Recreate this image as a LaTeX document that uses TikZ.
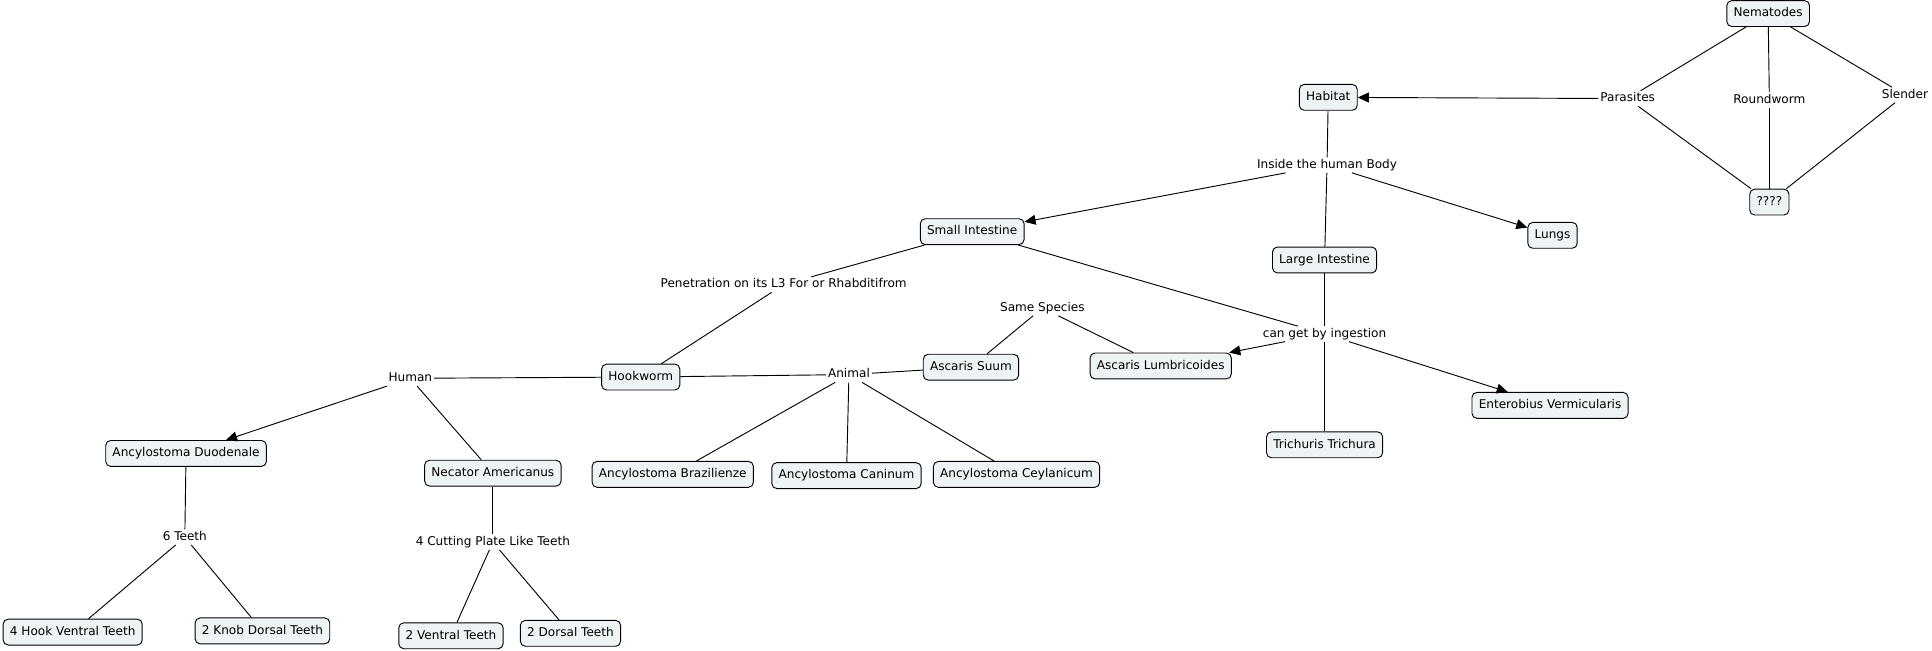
\documentclass[tikz,border=0pt]{standalone}
\usepackage{fontspec}
\setmainfont{DejaVu Sans}
\usetikzlibrary{arrows.meta}
\definecolor{boxfill}{RGB}{238,243,245}
\tikzstyle{concept} = [rectangle, rounded corners=4pt, draw=black, fill=boxfill, line width=0.75pt, minimum height=21pt, inner xsep=5.5pt, text height=7.2pt, text depth=2pt, font=\fontsize{9.8}{11}\selectfont]
\tikzstyle{link} = [inner sep=1.5pt, text height=7.2pt, text depth=2pt, font=\fontsize{9.8}{11}\selectfont]
\tikzstyle{line} = [line width=0.75pt]
\tikzstyle{arrow} = [line width=0.75pt, -{Triangle[length=9pt,width=8pt]}]

\begin{document}
\begin{tikzpicture}[x=1pt, y=-1pt]
\useasboundingbox (0,0) rectangle (1568,528);

% Concetti
\node (nematodes) [concept] at (1435,11) {Nematodes};
\node (habitat) [concept] at (1078,79) {Habitat};
\node (unknown) [concept] at (1436,164) {????};
\node (smallInt) [concept] at (789,188) {Small Intestine};
\node (lungs) [concept] at (1260,191) {Lungs};
\node (largeInt) [concept] at (1075,211) {Large Intestine};
\node (hookworm) [concept] at (520,306) {Hookworm};
\node (ascSuum) [concept] at (788,298) {Ascaris Suum};
\node (ascLumb) [concept] at (942,297) {Ascaris Lumbricoides};
\node (enterobius) [concept] at (1258,329) {Enterobius Vermicularis};
\node (trichuris) [concept] at (1075,361) {Trichuris Trichura};
\node (duodenale) [concept] at (151,368) {Ancylostoma Duodenale};
\node (necator) [concept] at (400,384) {Necator Americanus};
\node (brazil) [concept] at (546,385) {Ancylostoma Brazilienze};
\node (caninum) [concept] at (687,386) {Ancylostoma Caninum};
\node (ceylan) [concept] at (825,385) {Ancylostoma Ceylanicum};
\node (hookVentral) [concept] at (59,513) {4 Hook Ventral Teeth};
\node (knobDorsal) [concept] at (213,512) {2 Knob Dorsal Teeth};
\node (ventral) [concept] at (366,516) {2 Ventral Teeth};
\node (dorsal) [concept] at (463,514) {2 Dorsal Teeth};

% Frasi di collegamento
\node (parasites) [link] at (1321,80) {Parasites};
\node (roundworm) [link] at (1436,81) {Roundworm};
\node (slender) [link] at (1546,77) {Slender};
\node (inside) [link] at (1077,134) {Inside the human Body};
\node (penetration) [link] at (636,231) {Penetration on its L3 For or Rhabditifrom};
\node (sameSpecies) [link] at (846,250) {Same Species};
\node (ingestion) [link] at (1075,271) {can get by ingestion};
\node (human) [link] at (333,307) {Human};
\node (animal) [link] at (689,304) {Animal};
\node (sixTeeth) [link] at (150,436) {6 Teeth};
\node (cutting) [link] at (400,440) {4 Cutting Plate Like Teeth};

% Nematodes
\draw [line] (nematodes) -- (parasites);
\draw [line] (parasites) -- (unknown);
\draw [arrow] (parasites) -- (habitat);
\draw [line] (nematodes) -- (roundworm);
\draw [line] (roundworm) -- (unknown);
\draw [line] (nematodes) -- (slender);
\draw [line] (slender) -- (unknown);

% Habitat
\draw [line] (habitat) -- (inside);
\draw [arrow] (inside) -- (smallInt);
\draw [arrow] (inside) -- (lungs);
\draw [line] (inside) -- (largeInt);

% Intestino
\draw [line] (smallInt) -- (penetration);
\draw [line] (penetration) -- (hookworm);
\draw [line] (smallInt) -- (ingestion);
\draw [line] (largeInt) -- (ingestion);
\draw [arrow] (ingestion) -- (ascLumb);
\draw [arrow] (ingestion) -- (enterobius);
\draw [line] (ingestion) -- (trichuris);
\draw [line] (ascLumb) -- (sameSpecies);
\draw [line] (sameSpecies) -- (ascSuum);

% Hookworm
\draw [line] (hookworm) -- (human);
\draw [arrow] (human) -- (duodenale);
\draw [line] (human) -- (necator);
\draw [line] (hookworm) -- (animal);
\draw [line] (animal) -- (ascSuum);
\draw [line] (animal) -- (brazil);
\draw [line] (animal) -- (caninum);
\draw [line] (animal) -- (ceylan);

% Denti
\draw [line] (duodenale) -- (sixTeeth);
\draw [line] (sixTeeth) -- (hookVentral);
\draw [line] (sixTeeth) -- (knobDorsal);
\draw [line] (necator) -- (cutting);
\draw [line] (cutting) -- (ventral);
\draw [line] (cutting) -- (dorsal);

\end{tikzpicture}
\end{document}
